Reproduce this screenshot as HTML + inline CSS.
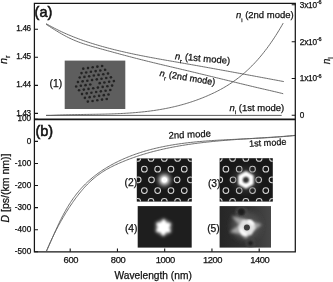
<!DOCTYPE html>
<html><head><meta charset="utf-8"><title>Figure</title>
<style>html,body{margin:0;padding:0;background:#fff;width:333px;height:282px;overflow:hidden}
svg{display:block}</style></head>
<body><svg width="333" height="282" viewBox="0 0 333 282" font-family="'Liberation Sans', Arial, Helvetica, sans-serif" fill="#111"><defs><clipPath id="c1"><rect x="64.7" y="60.6" width="60.6" height="48.4"/></clipPath><clipPath id="c2"><rect x="136.8" y="158.4" width="55" height="43.2"/></clipPath><clipPath id="c3"><rect x="219.6" y="158.2" width="53.2" height="43.4"/></clipPath><clipPath id="c5"><rect x="219.6" y="206.1" width="51.4" height="41.5"/></clipPath><radialGradient id="g2"><stop offset="0" stop-color="#fff"/><stop offset="0.22" stop-color="#fff" stop-opacity="1"/><stop offset="0.45" stop-color="#ddd" stop-opacity="0.65"/><stop offset="0.75" stop-color="#999" stop-opacity="0.25"/><stop offset="1" stop-color="#777" stop-opacity="0"/></radialGradient><radialGradient id="gh"><stop offset="0" stop-color="#888" stop-opacity="0.8"/><stop offset="0.5" stop-color="#555" stop-opacity="0.4"/><stop offset="1" stop-color="#333" stop-opacity="0"/></radialGradient><linearGradient id="g5" x1="0" x2="1" y1="0" y2="0"><stop offset="0" stop-color="#262626"/><stop offset="0.5" stop-color="#303030"/><stop offset="1" stop-color="#474747"/></linearGradient><filter id="b1" x="-50%" y="-50%" width="200%" height="200%"><feGaussianBlur stdDeviation="1.1"/></filter><filter id="b15" x="-50%" y="-50%" width="200%" height="200%"><feGaussianBlur stdDeviation="1.6"/></filter><filter id="b2" x="-50%" y="-50%" width="200%" height="200%"><feGaussianBlur stdDeviation="2.4"/></filter><filter id="b05" x="-50%" y="-50%" width="200%" height="200%"><feGaussianBlur stdDeviation="0.7"/></filter><filter id="bd" x="-10%" y="-10%" width="120%" height="120%"><feGaussianBlur stdDeviation="0.35"/></filter></defs><path d="M46.10,23.65 L47.81,24.63 L49.52,25.59 L51.23,26.52 L52.94,27.44 L54.65,28.33 L56.36,29.20 L58.07,30.05 L59.78,30.88 L61.49,31.70 L63.20,32.49 L64.91,33.26 L66.62,34.02 L68.33,34.76 L70.04,35.48 L71.75,36.18 L73.46,36.87 L75.17,37.54 L76.88,38.20 L78.59,38.84 L80.30,39.47 L82.01,40.08 L83.72,40.69 L85.43,41.27 L87.14,41.85 L88.85,42.41 L90.56,42.96 L92.27,43.50 L93.98,44.03 L95.69,44.55 L97.40,45.06 L99.11,45.56 L100.82,46.05 L102.53,46.54 L104.24,47.01 L105.95,47.48 L107.66,47.94 L109.37,48.39 L111.08,48.83 L112.79,49.27 L114.50,49.70 L116.21,50.12 L117.92,50.54 L119.63,50.95 L121.34,51.35 L123.05,51.74 L124.76,52.13 L126.47,52.52 L128.18,52.90 L129.89,53.27 L131.60,53.64 L133.31,54.00 L135.02,54.36 L136.73,54.71 L138.44,55.06 L140.15,55.41 L141.86,55.75 L143.57,56.09 L145.28,56.42 L146.99,56.75 L148.70,57.07 L150.41,57.40 L152.12,57.72 L153.83,58.03 L155.54,58.35 L157.25,58.66 L158.96,58.97 L160.67,59.28 L162.38,59.58 L164.09,59.88 L165.81,60.19 L167.52,60.49 L169.23,60.79 L170.94,61.09 L172.65,61.38 L174.36,61.68 L176.07,61.98 L177.78,62.28 L179.49,62.57 L181.20,62.87 L182.91,63.17 L184.62,63.46 L186.33,63.76 L188.04,64.06 L189.75,64.36 L191.46,64.66 L193.17,64.97 L194.88,65.27 L196.59,65.57 L198.30,65.87 L200.01,66.18 L201.72,66.48 L203.43,66.79 L205.14,67.09 L206.85,67.40 L208.56,67.71 L210.27,68.02 L211.98,68.32 L213.69,68.63 L215.40,68.94 L217.11,69.25 L218.82,69.56 L220.53,69.87 L222.24,70.19 L223.95,70.50 L225.66,70.81 L227.37,71.12 L229.08,71.43 L230.79,71.75 L232.50,72.06 L234.21,72.38 L235.92,72.69 L237.63,73.01 L239.34,73.32 L241.05,73.64 L242.76,73.95 L244.47,74.27 L246.18,74.58 L247.89,74.90 L249.60,75.22 L251.31,75.53 L253.02,75.85 L254.73,76.17 L256.44,76.49 L258.15,76.80 L259.86,77.12 L261.57,77.44 L263.28,77.76 L264.99,78.07 L266.70,78.39 L268.41,78.71 L270.12,79.03 L271.83,79.35 L273.54,79.66 L275.25,79.98 L276.96,80.30 L278.67,80.62 L280.38,80.94 L282.09,81.26 L283.80,81.57" fill="none" stroke="#5e5e5e" stroke-width="0.90" stroke-linejoin="round"/><path d="M46.10,24.33 L47.81,25.42 L49.51,26.51 L51.22,27.60 L52.92,28.67 L54.63,29.74 L56.33,30.79 L58.04,31.82 L59.75,32.83 L61.45,33.82 L63.16,34.79 L64.86,35.72 L66.57,36.63 L68.27,37.50 L69.98,38.34 L71.69,39.13 L73.39,39.89 L75.10,40.62 L76.80,41.31 L78.51,41.97 L80.22,42.60 L81.92,43.21 L83.63,43.79 L85.33,44.36 L87.04,44.90 L88.74,45.42 L90.45,45.93 L92.16,46.43 L93.86,46.92 L95.57,47.40 L97.27,47.87 L98.98,48.35 L100.68,48.81 L102.39,49.28 L104.10,49.75 L105.80,50.22 L107.51,50.69 L109.21,51.16 L110.92,51.62 L112.62,52.09 L114.33,52.56 L116.04,53.02 L117.74,53.48 L119.45,53.95 L121.15,54.41 L122.86,54.86 L124.56,55.32 L126.27,55.78 L127.98,56.23 L129.68,56.68 L131.39,57.13 L133.09,57.57 L134.80,58.02 L136.51,58.46 L138.21,58.89 L139.92,59.33 L141.62,59.76 L143.33,60.19 L145.03,60.62 L146.74,61.04 L148.45,61.46 L150.15,61.88 L151.86,62.29 L153.56,62.71 L155.27,63.12 L156.97,63.53 L158.68,63.94 L160.39,64.35 L162.09,64.75 L163.80,65.16 L165.50,65.56 L167.21,65.96 L168.91,66.37 L170.62,66.77 L172.33,67.17 L174.03,67.57 L175.74,67.97 L177.44,68.37 L179.15,68.78 L180.85,69.18 L182.56,69.58 L184.27,69.98 L185.97,70.39 L187.68,70.79 L189.38,71.20 L191.09,71.61 L192.79,72.02 L194.50,72.42 L196.21,72.83 L197.91,73.24 L199.62,73.66 L201.32,74.07 L203.03,74.48 L204.74,74.89 L206.44,75.30 L208.15,75.72 L209.85,76.13 L211.56,76.55 L213.26,76.96 L214.97,77.38 L216.68,77.79 L218.38,78.21 L220.09,78.62 L221.79,79.04 L223.50,79.45 L225.20,79.87 L226.91,80.28 L228.62,80.70 L230.32,81.12 L232.03,81.53 L233.73,81.95 L235.44,82.36 L237.14,82.78 L238.85,83.19 L240.56,83.61 L242.26,84.02 L243.97,84.43 L245.67,84.85 L247.38,85.26 L249.08,85.67 L250.79,86.08 L252.50,86.49 L254.20,86.90 L255.91,87.30 L257.61,87.70 L259.32,88.10 L261.03,88.49 L262.73,88.89 L264.44,89.28 L266.14,89.67 L267.85,90.06 L269.55,90.45 L271.26,90.84 L272.97,91.24 L274.67,91.64 L276.38,92.04 L278.08,92.45 L279.79,92.87 L281.49,93.29 L283.20,93.72" fill="none" stroke="#5e5e5e" stroke-width="0.90" stroke-linejoin="round"/><path d="M46.10,115.40 L47.59,115.40 L49.08,115.40 L50.57,115.40 L52.06,115.35 L53.56,115.28 L55.05,115.21 L56.54,115.14 L58.03,115.08 L59.52,115.03 L61.01,114.98 L62.50,114.93 L63.99,114.88 L65.49,114.84 L66.98,114.80 L68.47,114.76 L69.96,114.72 L71.45,114.69 L72.94,114.66 L74.43,114.63 L75.92,114.60 L77.42,114.57 L78.91,114.55 L80.40,114.52 L81.89,114.50 L83.38,114.47 L84.87,114.45 L86.36,114.43 L87.85,114.41 L89.34,114.38 L90.84,114.36 L92.33,114.34 L93.82,114.31 L95.31,114.29 L96.80,114.26 L98.29,114.23 L99.78,114.21 L101.27,114.17 L102.77,114.14 L104.26,114.11 L105.75,114.07 L107.24,114.03 L108.73,113.99 L110.22,113.94 L111.71,113.90 L113.20,113.85 L114.69,113.79 L116.19,113.73 L117.68,113.67 L119.17,113.61 L120.66,113.54 L122.15,113.46 L123.64,113.39 L125.13,113.30 L126.62,113.21 L128.12,113.12 L129.61,113.02 L131.10,112.92 L132.59,112.81 L134.08,112.69 L135.57,112.57 L137.06,112.45 L138.55,112.31 L140.05,112.17 L141.54,112.02 L143.03,111.87 L144.52,111.71 L146.01,111.54 L147.50,111.36 L148.99,111.18 L150.48,110.99 L151.97,110.78 L153.47,110.58 L154.96,110.36 L156.45,110.13 L157.94,109.90 L159.43,109.65 L160.92,109.40 L162.41,109.14 L163.90,108.87 L165.40,108.58 L166.89,108.29 L168.38,107.99 L169.87,107.68 L171.36,107.35 L172.85,107.02 L174.34,106.68 L175.83,106.32 L177.33,105.95 L178.82,105.57 L180.31,105.18 L181.80,104.78 L183.29,104.36 L184.78,103.94 L186.27,103.50 L187.76,103.04 L189.25,102.58 L190.75,102.10 L192.24,101.61 L193.73,101.10 L195.22,100.58 L196.71,100.05 L198.20,99.51 L199.69,98.94 L201.18,98.37 L202.68,97.78 L204.17,97.17 L205.66,96.55 L207.15,95.92 L208.64,95.27 L210.13,94.60 L211.62,93.92 L213.11,93.22 L214.61,92.51 L216.10,91.77 L217.59,91.02 L219.08,90.24 L220.57,89.45 L222.06,88.63 L223.55,87.78 L225.04,86.91 L226.53,86.02 L228.03,85.10 L229.52,84.15 L231.01,83.17 L232.50,82.16 L233.99,81.12 L235.48,80.05 L236.97,78.95 L238.46,77.82 L239.96,76.64 L241.45,75.44 L242.94,74.19 L244.43,72.91 L245.92,71.59 L247.41,70.23 L248.90,68.83 L250.39,67.39 L251.88,65.91 L253.38,64.38 L254.87,62.80 L256.36,61.18 L257.85,59.52 L259.34,57.81 L260.83,56.04 L262.32,54.23 L263.81,52.37 L265.31,50.46 L266.80,48.49 L268.29,46.47 L269.78,44.39 L271.27,42.26 L272.76,40.08 L274.25,37.83 L275.74,35.53 L277.24,33.17 L278.73,30.74 L280.22,28.26 L281.71,25.71 L283.20,23.10" fill="none" stroke="#5e5e5e" stroke-width="0.90" stroke-linejoin="round"/><path d="M46.1,115.4 L281.7,115.4" stroke="#5e5e5e" stroke-width="1.0"/><path d="M46.62,250.99 L47.21,249.65 L47.80,248.31 L48.39,246.96 L48.98,245.61 L49.58,244.25 L50.17,242.89 L50.76,241.52 L51.36,240.16 L51.96,238.79 L52.55,237.42 L53.16,236.05 L53.76,234.67 L54.37,233.30 L54.99,231.92 L55.60,230.55 L56.23,229.18 L56.86,227.80 L57.49,226.43 L58.13,225.07 L58.78,223.70 L59.43,222.34 L60.09,220.98 L60.76,219.62 L61.44,218.27 L62.13,216.93 L62.83,215.59 L63.53,214.25 L64.25,212.92 L64.97,211.60 L65.71,210.28 L66.46,208.98 L67.22,207.68 L67.99,206.39 L68.78,205.10 L69.58,203.83 L70.39,202.57 L71.22,201.32 L72.06,200.07 L72.91,198.84 L73.78,197.62 L74.67,196.41 L75.57,195.22 L76.48,194.04 L77.42,192.87 L78.36,191.71 L79.32,190.56 L80.30,189.43 L81.29,188.31 L82.30,187.21 L83.32,186.12 L84.36,185.05 L85.41,183.99 L86.48,182.95 L87.56,181.92 L88.66,180.91 L89.78,179.91 L90.91,178.93 L92.05,177.97 L93.21,177.02 L94.38,176.09 L95.57,175.17 L96.77,174.26 L97.98,173.38 L99.20,172.50 L100.43,171.65 L101.67,170.80 L102.93,169.97 L104.19,169.16 L105.47,168.36 L106.75,167.58 L108.04,166.81 L109.34,166.05 L110.65,165.31 L111.97,164.59 L113.29,163.87 L114.62,163.17 L115.95,162.49 L117.30,161.82 L118.64,161.16 L119.99,160.52 L121.35,159.89 L122.71,159.27 L124.08,158.67 L125.45,158.08 L126.82,157.50 L128.20,156.94 L129.58,156.38 L130.97,155.85 L132.36,155.32 L133.75,154.80 L135.15,154.30 L136.55,153.81 L137.96,153.33 L139.37,152.86 L140.78,152.41 L142.20,151.96 L143.61,151.53 L145.04,151.10 L146.46,150.69 L147.89,150.29 L149.33,149.90 L150.76,149.51 L152.20,149.14 L153.64,148.78 L155.09,148.43 L156.54,148.08 L157.99,147.75 L159.44,147.43 L160.90,147.11 L162.36,146.81 L163.82,146.51 L165.28,146.22 L166.75,145.94 L168.22,145.67 L169.69,145.40 L171.17,145.14 L172.64,144.90 L174.12,144.66 L175.60,144.42 L177.08,144.20 L178.57,143.98 L180.05,143.76 L181.54,143.56 L183.03,143.36 L184.52,143.17 L186.01,142.98 L187.51,142.80 L189.01,142.63 L190.50,142.46 L192.00,142.29 L193.50,142.14 L195.00,141.98 L196.51,141.84 L198.01,141.70 L199.52,141.56 L201.02,141.43 L202.53,141.30 L204.04,141.17 L205.55,141.06 L207.06,140.94 L208.57,140.83 L210.08,140.72 L211.59,140.62 L213.10,140.51 L214.61,140.42 L216.13,140.32 L217.64,140.23 L219.15,140.14 L220.67,140.05 L222.18,139.97 L223.69,139.89 L225.21,139.81 L226.72,139.73 L228.23,139.65 L229.75,139.58 L231.26,139.50 L232.77,139.43 L234.29,139.36 L235.80,139.29 L237.31,139.22 L238.82,139.15 L240.33,139.08 L241.84,139.01 L243.35,138.94 L244.86,138.88 L246.37,138.81 L247.87,138.74 L249.38,138.67 L250.88,138.60 L252.39,138.53 L253.89,138.46 L255.39,138.38 L256.89,138.31 L258.39,138.23 L259.89,138.15 L261.38,138.07 L262.87,137.99 L264.37,137.91 L265.86,137.82 L267.35,137.73 L268.83,137.64 L270.32,137.55 L271.80,137.45 L273.28,137.35 L274.76,137.24 L276.24,137.14 L277.71,137.03 L279.19,136.91 L280.66,136.79 L282.12,136.67 L283.59,136.54 L285.05,136.41 L286.51,136.27 L287.97,136.13 L289.42,135.99 L290.88,135.84 L292.33,135.68 L293.77,135.52 L295.22,135.35" fill="none" stroke="#5e5e5e" stroke-width="0.90" stroke-linejoin="round"/><path d="M46.44,250.92 L47.02,249.57 L47.61,248.22 L48.21,246.87 L48.81,245.51 L49.42,244.17 L50.03,242.82 L50.65,241.47 L51.28,240.13 L51.91,238.78 L52.55,237.44 L53.19,236.11 L53.85,234.77 L54.50,233.44 L55.17,232.10 L55.84,230.78 L56.52,229.45 L57.21,228.13 L57.90,226.81 L58.60,225.49 L59.31,224.18 L60.03,222.87 L60.75,221.56 L61.48,220.26 L62.22,218.97 L62.97,217.67 L63.72,216.38 L64.49,215.10 L65.26,213.82 L66.04,212.55 L66.83,211.28 L67.63,210.01 L68.43,208.75 L69.25,207.50 L70.07,206.25 L70.90,205.01 L71.75,203.77 L72.60,202.54 L73.46,201.31 L74.33,200.09 L75.21,198.88 L76.10,197.68 L77.00,196.48 L77.91,195.29 L78.84,194.11 L79.77,192.94 L80.72,191.78 L81.68,190.63 L82.65,189.50 L83.63,188.38 L84.63,187.27 L85.64,186.17 L86.67,185.10 L87.71,184.03 L88.76,182.99 L89.83,181.96 L90.92,180.95 L92.02,179.95 L93.13,178.98 L94.27,178.02 L95.41,177.09 L96.58,176.17 L97.76,175.27 L98.95,174.40 L100.16,173.54 L101.38,172.70 L102.62,171.89 L103.87,171.09 L105.13,170.32 L106.41,169.56 L107.71,168.83 L109.01,168.11 L110.33,167.42 L111.65,166.74 L112.99,166.07 L114.33,165.42 L115.68,164.79 L117.04,164.17 L118.40,163.56 L119.77,162.96 L121.14,162.37 L122.51,161.80 L123.89,161.23 L125.27,160.68 L126.65,160.13 L128.03,159.59 L129.42,159.07 L130.82,158.55 L132.21,158.04 L133.61,157.54 L135.01,157.05 L136.41,156.57 L137.82,156.10 L139.23,155.64 L140.64,155.18 L142.05,154.74 L143.47,154.30 L144.89,153.88 L146.31,153.46 L147.74,153.05 L149.16,152.64 L150.59,152.25 L152.02,151.86 L153.46,151.48 L154.89,151.11 L156.33,150.75 L157.77,150.39 L159.22,150.05 L160.66,149.70 L162.11,149.37 L163.56,149.04 L165.01,148.72 L166.46,148.41 L167.91,148.11 L169.37,147.81 L170.83,147.51 L172.29,147.23 L173.75,146.95 L175.21,146.67 L176.68,146.41 L178.14,146.14 L179.61,145.89 L181.08,145.64 L182.55,145.40 L184.03,145.16 L185.50,144.92 L186.97,144.70 L188.45,144.48 L189.93,144.26 L191.41,144.05 L192.89,143.84 L194.37,143.64 L195.85,143.44 L197.33,143.25 L198.82,143.06 L200.30,142.88 L201.79,142.70 L203.27,142.52 L204.76,142.35 L206.25,142.18 L207.74,142.02 L209.23,141.86 L210.72,141.71 L212.21,141.56 L213.70,141.41 L215.19,141.26 L216.69,141.12 L218.18,140.98 L219.67,140.85 L221.17,140.71 L222.66,140.58 L224.15,140.46 L225.65,140.33 L227.14,140.21 L228.64,140.09 L230.13,139.97 L231.63,139.86 L233.12,139.75 L234.62,139.64 L236.11,139.53 L237.61,139.42 L239.10,139.31 L240.59,139.21 L242.09,139.11 L243.58,139.01 L245.07,138.91 L246.57,138.81 L248.06,138.71 L249.55,138.61 L251.04,138.52 L252.53,138.42 L254.03,138.33 L255.51,138.23 L257.00,138.14 L258.49,138.04 L259.98,137.95 L261.47,137.86 L262.95,137.76 L264.44,137.67 L265.92,137.57 L267.40,137.48 L268.89,137.39 L270.37,137.29 L271.85,137.19 L273.33,137.10 L274.80,137.00 L276.28,136.90 L277.75,136.80 L279.23,136.70 L280.70,136.60 L282.17,136.49 L283.64,136.39 L285.11,136.28 L286.58,136.17 L288.04,136.06 L289.50,135.95 L290.97,135.83 L292.43,135.71 L293.88,135.60 L295.34,135.47" fill="none" stroke="#5e5e5e" stroke-width="0.90" stroke-linejoin="round"/><rect x="64.7" y="60.6" width="60.6" height="48.4" fill="#5e5e5e"/><g fill="#222" filter="url(#bd)"><circle cx="76.14" cy="86.48" r="1.3"/><circle cx="79.07" cy="90.26" r="1.3"/><circle cx="82.00" cy="94.05" r="1.3"/><circle cx="84.93" cy="97.84" r="1.3"/><circle cx="87.87" cy="101.62" r="1.3"/><circle cx="77.92" cy="82.02" r="1.3"/><circle cx="80.85" cy="85.81" r="1.3"/><circle cx="83.79" cy="89.59" r="1.3"/><circle cx="86.72" cy="93.38" r="1.3"/><circle cx="89.65" cy="97.17" r="1.3"/><circle cx="92.58" cy="100.96" r="1.3"/><circle cx="79.71" cy="77.56" r="1.3"/><circle cx="82.64" cy="81.35" r="1.3"/><circle cx="85.57" cy="85.14" r="1.3"/><circle cx="88.50" cy="88.92" r="1.3"/><circle cx="91.43" cy="92.71" r="1.3"/><circle cx="94.36" cy="96.50" r="1.3"/><circle cx="97.30" cy="100.29" r="1.3"/><circle cx="81.49" cy="73.11" r="1.3"/><circle cx="84.42" cy="76.89" r="1.3"/><circle cx="87.35" cy="80.68" r="1.3"/><circle cx="90.28" cy="84.47" r="1.3"/><circle cx="93.22" cy="88.26" r="1.3"/><circle cx="96.15" cy="92.04" r="1.3"/><circle cx="99.08" cy="95.83" r="1.3"/><circle cx="102.01" cy="99.62" r="1.3"/><circle cx="83.27" cy="68.65" r="1.3"/><circle cx="86.21" cy="72.44" r="1.3"/><circle cx="89.14" cy="76.23" r="1.3"/><circle cx="92.07" cy="80.01" r="1.3"/><circle cx="97.93" cy="87.59" r="1.3"/><circle cx="100.86" cy="91.37" r="1.3"/><circle cx="103.79" cy="95.16" r="1.3"/><circle cx="106.73" cy="98.95" r="1.3"/><circle cx="87.99" cy="67.98" r="1.3"/><circle cx="90.92" cy="71.77" r="1.3"/><circle cx="93.85" cy="75.56" r="1.3"/><circle cx="96.78" cy="79.34" r="1.3"/><circle cx="99.72" cy="83.13" r="1.3"/><circle cx="102.65" cy="86.92" r="1.3"/><circle cx="105.58" cy="90.71" r="1.3"/><circle cx="108.51" cy="94.49" r="1.3"/><circle cx="92.70" cy="67.31" r="1.3"/><circle cx="95.64" cy="71.10" r="1.3"/><circle cx="98.57" cy="74.89" r="1.3"/><circle cx="101.50" cy="78.68" r="1.3"/><circle cx="104.43" cy="82.46" r="1.3"/><circle cx="107.36" cy="86.25" r="1.3"/><circle cx="110.29" cy="90.04" r="1.3"/><circle cx="97.42" cy="66.64" r="1.3"/><circle cx="100.35" cy="70.43" r="1.3"/><circle cx="103.28" cy="74.22" r="1.3"/><circle cx="106.21" cy="78.01" r="1.3"/><circle cx="109.15" cy="81.79" r="1.3"/><circle cx="112.08" cy="85.58" r="1.3"/><circle cx="102.13" cy="65.98" r="1.3"/><circle cx="105.07" cy="69.76" r="1.3"/><circle cx="108.00" cy="73.55" r="1.3"/><circle cx="110.93" cy="77.34" r="1.3"/><circle cx="113.86" cy="81.12" r="1.3"/></g><rect x="136.8" y="158.4" width="55" height="43.2" fill="#181818"/><g fill="none" stroke="#d4d4d4" stroke-width="1.05" clip-path="url(#c2)"><circle cx="111.10" cy="158.45" r="2.85"/><circle cx="124.40" cy="158.45" r="2.85"/><circle cx="137.70" cy="158.45" r="2.85"/><circle cx="151.00" cy="158.45" r="2.85"/><circle cx="164.30" cy="158.45" r="2.85"/><circle cx="177.60" cy="158.45" r="2.85"/><circle cx="190.90" cy="158.45" r="2.85"/><circle cx="204.20" cy="158.45" r="2.85"/><circle cx="217.50" cy="158.45" r="2.85"/><circle cx="117.75" cy="169.15" r="2.85"/><circle cx="131.05" cy="169.15" r="2.85"/><circle cx="144.35" cy="169.15" r="2.85"/><circle cx="157.65" cy="169.15" r="2.85"/><circle cx="170.95" cy="169.15" r="2.85"/><circle cx="184.25" cy="169.15" r="2.85"/><circle cx="197.55" cy="169.15" r="2.85"/><circle cx="210.85" cy="169.15" r="2.85"/><circle cx="224.15" cy="169.15" r="2.85"/><circle cx="111.60" cy="179.85" r="2.85"/><circle cx="124.90" cy="179.85" r="2.85"/><circle cx="138.20" cy="179.85" r="2.85"/><circle cx="151.50" cy="179.85" r="2.85"/><circle cx="177.10" cy="179.85" r="2.85"/><circle cx="190.40" cy="179.85" r="2.85"/><circle cx="203.70" cy="179.85" r="2.85"/><circle cx="217.00" cy="179.85" r="2.85"/><circle cx="117.75" cy="190.55" r="2.85"/><circle cx="131.05" cy="190.55" r="2.85"/><circle cx="144.35" cy="190.55" r="2.85"/><circle cx="157.65" cy="190.55" r="2.85"/><circle cx="170.95" cy="190.55" r="2.85"/><circle cx="184.25" cy="190.55" r="2.85"/><circle cx="197.55" cy="190.55" r="2.85"/><circle cx="210.85" cy="190.55" r="2.85"/><circle cx="224.15" cy="190.55" r="2.85"/><circle cx="111.10" cy="201.25" r="2.85"/><circle cx="124.40" cy="201.25" r="2.85"/><circle cx="137.70" cy="201.25" r="2.85"/><circle cx="151.00" cy="201.25" r="2.85"/><circle cx="164.30" cy="201.25" r="2.85"/><circle cx="177.60" cy="201.25" r="2.85"/><circle cx="190.90" cy="201.25" r="2.85"/><circle cx="204.20" cy="201.25" r="2.85"/><circle cx="217.50" cy="201.25" r="2.85"/></g><circle cx="164.4" cy="179.9" r="10" fill="url(#g2)"/><rect x="219.6" y="158.2" width="53.2" height="43.4" fill="#181818"/><g fill="none" stroke="#d4d4d4" stroke-width="1.05" clip-path="url(#c3)"><circle cx="192.65" cy="158.45" r="2.85"/><circle cx="205.95" cy="158.45" r="2.85"/><circle cx="219.25" cy="158.45" r="2.85"/><circle cx="232.55" cy="158.45" r="2.85"/><circle cx="245.85" cy="158.45" r="2.85"/><circle cx="259.15" cy="158.45" r="2.85"/><circle cx="272.45" cy="158.45" r="2.85"/><circle cx="285.75" cy="158.45" r="2.85"/><circle cx="299.05" cy="158.45" r="2.85"/><circle cx="199.30" cy="169.15" r="2.85"/><circle cx="212.60" cy="169.15" r="2.85"/><circle cx="225.90" cy="169.15" r="2.85"/><circle cx="239.20" cy="169.15" r="2.85"/><circle cx="252.50" cy="169.15" r="2.85"/><circle cx="265.80" cy="169.15" r="2.85"/><circle cx="279.10" cy="169.15" r="2.85"/><circle cx="292.40" cy="169.15" r="2.85"/><circle cx="305.70" cy="169.15" r="2.85"/><circle cx="193.15" cy="179.85" r="2.85"/><circle cx="206.45" cy="179.85" r="2.85"/><circle cx="219.75" cy="179.85" r="2.85"/><circle cx="233.05" cy="179.85" r="2.85"/><circle cx="258.65" cy="179.85" r="2.85"/><circle cx="271.95" cy="179.85" r="2.85"/><circle cx="285.25" cy="179.85" r="2.85"/><circle cx="298.55" cy="179.85" r="2.85"/><circle cx="199.30" cy="190.55" r="2.85"/><circle cx="212.60" cy="190.55" r="2.85"/><circle cx="225.90" cy="190.55" r="2.85"/><circle cx="239.20" cy="190.55" r="2.85"/><circle cx="252.50" cy="190.55" r="2.85"/><circle cx="265.80" cy="190.55" r="2.85"/><circle cx="279.10" cy="190.55" r="2.85"/><circle cx="292.40" cy="190.55" r="2.85"/><circle cx="305.70" cy="190.55" r="2.85"/><circle cx="192.65" cy="201.25" r="2.85"/><circle cx="205.95" cy="201.25" r="2.85"/><circle cx="219.25" cy="201.25" r="2.85"/><circle cx="232.55" cy="201.25" r="2.85"/><circle cx="245.85" cy="201.25" r="2.85"/><circle cx="259.15" cy="201.25" r="2.85"/><circle cx="272.45" cy="201.25" r="2.85"/><circle cx="285.75" cy="201.25" r="2.85"/><circle cx="299.05" cy="201.25" r="2.85"/></g><circle cx="245.9" cy="179.9" r="18" fill="url(#gh)"/><polygon points="251.01,182.85 245.90,185.80 240.79,182.85 240.79,176.95 245.90,174.00 251.01,176.95" fill="none" stroke="#fff" stroke-width="5.2" filter="url(#b1)"/><circle cx="245.9" cy="179.9" r="2.6" fill="#2a2a2a" filter="url(#b1)"/><rect x="137.7" y="206.1" width="54" height="41.5" fill="#1e1e1e"/><polygon points="171.56,232.43 167.26,234.46 163.17,236.89 159.26,234.18 155.11,231.86 155.50,227.12 155.44,222.37 159.74,220.34 163.83,217.91 167.74,220.62 171.89,222.94 171.50,227.68" fill="#8a8a8a" filter="url(#b15)"/><polygon points="170.28,231.64 166.13,232.34 163.22,235.40 160.53,232.15 156.44,231.16 157.90,227.20 156.72,223.16 160.87,222.46 163.78,219.40 166.47,222.65 170.56,223.64 169.10,227.60" fill="#fff" filter="url(#b1)"/><rect x="219.6" y="206.1" width="51.4" height="41.5" fill="url(#g5)"/><g clip-path="url(#c5)"><ellipse cx="246" cy="226" rx="15" ry="14" fill="#4e4e4e" filter="url(#b2)"/><circle cx="241.4" cy="212.0" r="5.6" fill="#5a5a5a" filter="url(#b1)"/><polygon points="231.5,216 246,219.5 262,224.5 252,232 246,239 240,234 229.5,232 239,225" fill="#a8a8a8" filter="url(#b15)"/><polygon points="252.70,227.60 249.80,232.62 244.00,232.62 241.10,227.60 244.00,222.58 249.80,222.58" fill="none" stroke="#e2e2e2" stroke-width="5" filter="url(#b1)"/><path d="M240.5,229 Q242,234 247,234.5" fill="none" stroke="#fff" stroke-width="3" filter="url(#b1)"/><path d="M248,221 Q252,221.5 253.5,225" fill="none" stroke="#fff" stroke-width="2.6" filter="url(#b1)"/><circle cx="246.9" cy="227.6" r="3.0" fill="#3c3c3c" filter="url(#b05)"/><circle cx="241.4" cy="211.8" r="4.0" fill="#1e1e1e" filter="url(#b1)"/><circle cx="250.5" cy="243.3" r="3.8" fill="#202020" stroke="#505050" stroke-width="1.4" filter="url(#b1)"/></g><path d="M34.40,3.40 H295.30 V251.80 H34.40 Z" fill="none" stroke="#161616" stroke-width="1.25"/><path d="M34.40,119.30 H295.30" stroke="#161616" stroke-width="1.8"/><path d="M34.40,29.20 h3.6 M34.40,57.30 h3.6 M34.40,85.40 h3.6 M34.40,113.40 h3.6 M295.30,4.80 h-3.6 M295.30,41.70 h-3.6 M295.30,78.50 h-3.6 M295.30,115.30 h-3.6 M34.40,119.30 h3.6 M34.40,141.38 h3.6 M34.40,163.46 h3.6 M34.40,185.54 h3.6 M34.40,207.62 h3.6 M34.40,229.70 h3.6 M34.40,251.78 h3.6 M70.20,251.80 v-3.4 M117.45,251.80 v-3.4 M164.70,251.80 v-3.4 M211.95,251.80 v-3.4 M259.20,251.80 v-3.4" stroke="#161616" stroke-width="1.1" fill="none"/><g stroke="#111" stroke-width="0.25"><text x="30.80" y="30.75" font-size="8.20" text-anchor="end" letter-spacing="-0.35">1.46</text><text x="30.80" y="58.85" font-size="8.20" text-anchor="end" letter-spacing="-0.35">1.45</text><text x="30.80" y="86.95" font-size="8.20" text-anchor="end" letter-spacing="-0.35">1.44</text><text x="30.80" y="115.65" font-size="8.20" text-anchor="end" letter-spacing="-0.35">1.43</text><text x="31.20" y="121.45" font-size="8.20" text-anchor="end" >100</text><text x="31.20" y="144.03" font-size="8.20" text-anchor="end" >0</text><text x="31.20" y="166.11" font-size="8.20" text-anchor="end" >-100</text><text x="31.20" y="188.19" font-size="8.20" text-anchor="end" >-200</text><text x="31.20" y="210.27" font-size="8.20" text-anchor="end" >-300</text><text x="31.20" y="232.35" font-size="8.20" text-anchor="end" >-400</text><text x="31.20" y="254.43" font-size="8.20" text-anchor="end" >-500</text><text x="299.80" y="7.75" font-size="8.20" text-anchor="start" letter-spacing="-0.2">3x10<tspan font-size="5.5" dy="-3.6">-6</tspan></text><text x="299.80" y="44.65" font-size="8.20" text-anchor="start" letter-spacing="-0.2">2x10<tspan font-size="5.5" dy="-3.6">-6</tspan></text><text x="299.80" y="81.45" font-size="8.20" text-anchor="start" letter-spacing="-0.2">1x10<tspan font-size="5.5" dy="-3.6">-6</tspan></text><text x="299.80" y="118.25" font-size="8.20" text-anchor="start" letter-spacing="-0.2">0</text><text x="70.80" y="263.30" font-size="9.40" text-anchor="middle" letter-spacing="-0.4">600</text><text x="118.05" y="263.30" font-size="9.40" text-anchor="middle" letter-spacing="-0.4">800</text><text x="165.30" y="263.30" font-size="9.40" text-anchor="middle" letter-spacing="-0.4">1000</text><text x="212.55" y="263.30" font-size="9.40" text-anchor="middle" letter-spacing="-0.4">1200</text><text x="259.80" y="263.30" font-size="9.40" text-anchor="middle" letter-spacing="-0.4">1400</text><text x="153.20" y="279.20" font-size="10.20" text-anchor="middle" >Wavelength (nm)</text><text x="34.60" y="16.70" font-size="14.50" text-anchor="start" stroke-width="0.55">(a)</text><text x="35.40" y="135.60" font-size="14.50" text-anchor="start" stroke-width="0.55">(b)</text><text transform="translate(174.80,59.20) rotate(5.0)" font-size="9.50"><tspan font-style="italic">n</tspan><tspan font-size="5.8" dy="3.4">r</tspan><tspan dy="-3.4"> (1st mode)</tspan></text><text transform="translate(159.20,76.00) rotate(9.5)" font-size="9.15"><tspan font-style="italic">n</tspan><tspan font-size="5.8" dy="3.4">r</tspan><tspan dy="-3.4"> (2nd mode)</tspan></text><text transform="translate(235.90,18.40)" font-size="9.50"><tspan font-style="italic">n</tspan><tspan font-size="5.8" dy="3.4">i</tspan><tspan dy="-3.4"> (2nd mode)</tspan></text><text transform="translate(229.60,110.60)" font-size="9.50"><tspan font-style="italic">n</tspan><tspan font-size="5.8" dy="3.4">i</tspan><tspan dy="-3.4"> (1st mode)</tspan></text><text transform="translate(168.8,138.8) rotate(-3)" font-size="9.50">2nd mode</text><text transform="translate(249.2,146.8) rotate(-3)" font-size="9.1">1st mode</text><text x="49.50" y="87.30" font-size="10.30" text-anchor="start" >(1)</text><text x="124.60" y="186.20" font-size="10.30" text-anchor="start" >(2)</text><text x="207.90" y="186.60" font-size="10.30" text-anchor="start" >(3)</text><text x="124.90" y="231.90" font-size="10.30" text-anchor="start" >(4)</text><text x="207.20" y="231.60" font-size="10.30" text-anchor="start" >(5)</text><text transform="translate(8.5,188.0) rotate(-90)" font-size="10.5" text-anchor="middle"><tspan font-style="italic">D</tspan> [ps/(km nm)]</text><text transform="translate(7.0,64.0) rotate(-90)" font-size="11"><tspan font-style="italic">n</tspan><tspan font-size="7.5" dy="2.8">r</tspan></text><text transform="translate(330.1,64.3) rotate(-90)" font-size="10.2"><tspan font-style="italic">n</tspan><tspan font-size="6.8" dy="3.1">i</tspan></text></g></svg></body></html>
